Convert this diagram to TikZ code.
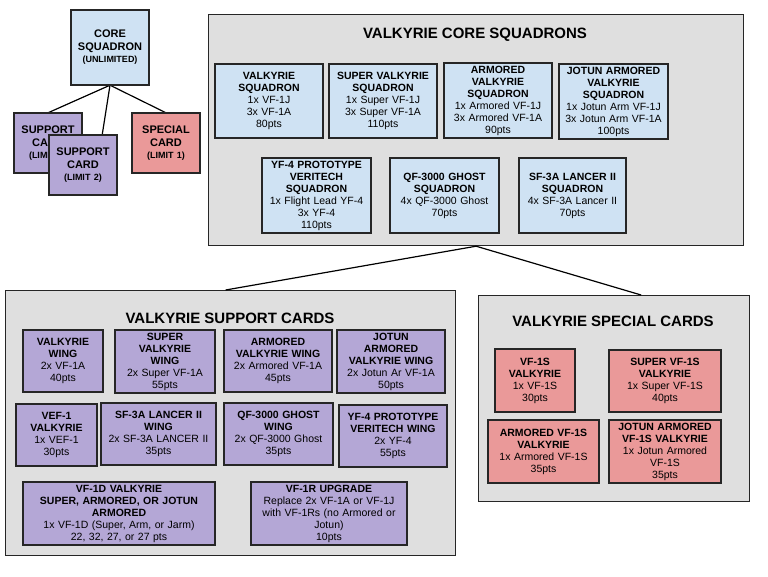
\documentclass[tikz,border=0pt]{standalone}
\usepackage{fontspec}
\setmainfont{Liberation Sans}
\newcommand{\lgA}{\fontsize{11}{13}\selectfont\bfseries}
\newcommand{\lgB}{\fontsize{9}{11}\selectfont\bfseries}
\begin{document}
\begin{tikzpicture}[x=1pt,y=-1pt,
  box/.style={draw=black!85,line width=1.3pt,align=center,inner sep=0pt,font=\fontsize{10.5}{12}\selectfont},
  blue/.style={box,fill=blue1},
  purp/.style={box,fill=purp1},
  red/.style={box,fill=red1},
  ghost/.style={draw=none,fill=none,align=center,inner sep=0pt},
  panel/.style={draw=black!85,line width=1.2pt,fill=gray!25},
  ttl/.style={font=\fontsize{15}{17}\selectfont\bfseries},
  link/.style={line width=1.2pt,draw=black}]
\definecolor{blue1}{HTML}{CFE2F3}
\definecolor{purp1}{HTML}{B4A7D6}
\definecolor{red1}{HTML}{EA9999}
\useasboundingbox (0,0) rectangle (768,576);
\newcommand{\card}[7]{\node[#6,minimum width={#4-#2},minimum height={#5-#3},text width={#4-#2-4}] (#1) at ({(#2+#4)/2},{(#3+#5)/2}) {#7};}
% legend anchors
\card{core}{71}{10}{149}{85}{ghost}{}
\card{supA}{14}{113}{82}{173}{ghost}{}
\card{supB}{49}{135}{117}{195}{ghost}{}
\card{spec}{132}{113}{200}{173}{ghost}{}
\draw[link] (core.south) -- (supA.north);
\draw[link] (core.south) -- ([xshift=-15pt]supB.north east);
\draw[link] (core.south) -- (spec.north);
\card{coreV}{71}{10}{149}{85}{blue}{\lgA CORE\\SQUADRON\\{\lgB (UNLIMITED)}}
\card{supAV}{14}{113}{82}{173}{purp}{\lgA SUPPORT\\CARD\\{\lgB (LIMIT 2)}}
\card{supBV}{49}{135}{117}{195}{purp}{\lgA SUPPORT\\CARD\\{\lgB (LIMIT 2)}}
\card{specV}{132}{113}{200}{173}{red}{\lgA SPECIAL\\CARD\\{\lgB (LIMIT 1)}}
% panels
\node[panel,minimum width=535,minimum height=231,anchor=north west] (corep) at (208,14) {};
\node[panel,minimum width=450,minimum height=265,anchor=north west] (supp) at (5,290) {};
\node[panel,minimum width=271,minimum height=206,anchor=north west] (specp) at (478,295) {};
\draw[link] (corep.south) -- ([xshift=-5pt]supp.north);
\draw[link] (corep.south) -- ([xshift=27pt]specp.north);
\node[ttl] (t1) at (475,35) {VALKYRIE CORE SQUADRONS};
\node[ttl] (t2) at (230,318) {VALKYRIE SUPPORT CARDS};
\node[ttl] (t3) at (613,321) {VALKYRIE SPECIAL CARDS};
% core squadrons
\card{c1}{215}{64}{323}{138}{blue}{\textbf{VALKYRIE}\\\textbf{SQUADRON}\\1x VF-1J\\3x VF-1A\\80pts}
\card{c2}{329}{64}{437}{138}{blue}{\textbf{SUPER VALKYRIE}\\\textbf{SQUADRON}\\1x Super VF-1J\\3x Super VF-1A\\110pts}
\card{c3}{444}{63}{552}{138}{blue}{\textbf{ARMORED}\\\textbf{VALKYRIE}\\\textbf{SQUADRON}\\1x Armored VF-1J\\3x Armored VF-1A\\90pts}
\card{c4}{559}{64}{668}{139}{blue}{\textbf{JOTUN ARMORED}\\\textbf{VALKYRIE}\\\textbf{SQUADRON}\\1x Jotun Arm VF-1J\\3x Jotun Arm VF-1A\\100pts}
\card{c5}{262}{158}{371}{233}{blue}{\textbf{YF-4 PROTOTYPE}\\\textbf{VERITECH}\\\textbf{SQUADRON}\\1x Flight Lead YF-4\\3x YF-4\\110pts}
\card{c6}{390}{158}{499}{233}{blue}{\textbf{QF-3000 GHOST}\\\textbf{SQUADRON}\\4x QF-3000 Ghost\\70pts}
\card{c7}{519}{158}{626}{233}{blue}{\textbf{SF-3A LANCER II}\\\textbf{SQUADRON}\\4x SF-3A Lancer II\\70pts}
% support cards
\card{s1}{23}{330}{103}{392}{purp}{\textbf{VALKYRIE}\\\textbf{WING}\\2x VF-1A\\40pts}
\card{s2}{115}{330}{215}{393}{purp}{\textbf{SUPER}\\\textbf{VALKYRIE}\\\textbf{WING}\\2x Super VF-1A\\55pts}
\card{s3}{224}{330}{332}{392}{purp}{\textbf{ARMORED}\\\textbf{VALKYRIE WING}\\2x Armored VF-1A\\45pts}
\card{s4}{337}{330}{445}{393}{purp}{\textbf{JOTUN}\\\textbf{ARMORED}\\\textbf{VALKYRIE WING}\\2x Jotun Ar VF-1A\\50pts}
\card{s5}{16}{404}{97}{466}{purp}{\textbf{VEF-1}\\\textbf{VALKYRIE}\\1x VEF-1\\30pts}
\card{s6}{101}{403}{216}{465}{purp}{\textbf{SF-3A LANCER II}\\\textbf{WING}\\2x SF-3A LANCER II\\35pts}
\card{s7}{224}{403}{333}{465}{purp}{\textbf{QF-3000 GHOST}\\\textbf{WING}\\2x QF-3000 Ghost\\35pts}
\card{s8}{339}{405}{447}{467}{purp}{\textbf{YF-4 PROTOTYPE}\\\textbf{VERITECH WING}\\2x YF-4\\55pts}
\card{s9}{23}{482}{215}{545}{purp}{\textbf{VF-1D VALKYRIE}\\\textbf{SUPER, ARMORED, OR JOTUN}\\\textbf{ARMORED}\\1x VF-1D (Super, Arm, or Jarm)\\22, 32, 27, or 27 pts}
\card{s10}{251}{482}{407}{545}{purp}{\textbf{VF-1R UPGRADE}\\Replace 2x VF-1A or VF-1J\\with VF-1Rs (no Armored or\\Jotun)\\10pts}
% special cards
\card{p1}{495}{349}{575}{412}{red}{\textbf{VF-1S}\\\textbf{VALKYRIE}\\1x VF-1S\\30pts}
\card{p2}{609}{350}{721}{412}{red}{\textbf{SUPER VF-1S}\\\textbf{VALKYRIE}\\1x Super VF-1S\\40pts}
\card{p3}{488}{420}{599}{483}{red}{\textbf{ARMORED VF-1S}\\\textbf{VALKYRIE}\\1x Armored VF-1S\\35pts}
\card{p4}{609}{420}{721}{483}{red}{\textbf{JOTUN ARMORED}\\\textbf{VF-1S VALKYRIE}\\1x Jotun Armored\\VF-1S\\35pts}
\end{tikzpicture}
\end{document}
